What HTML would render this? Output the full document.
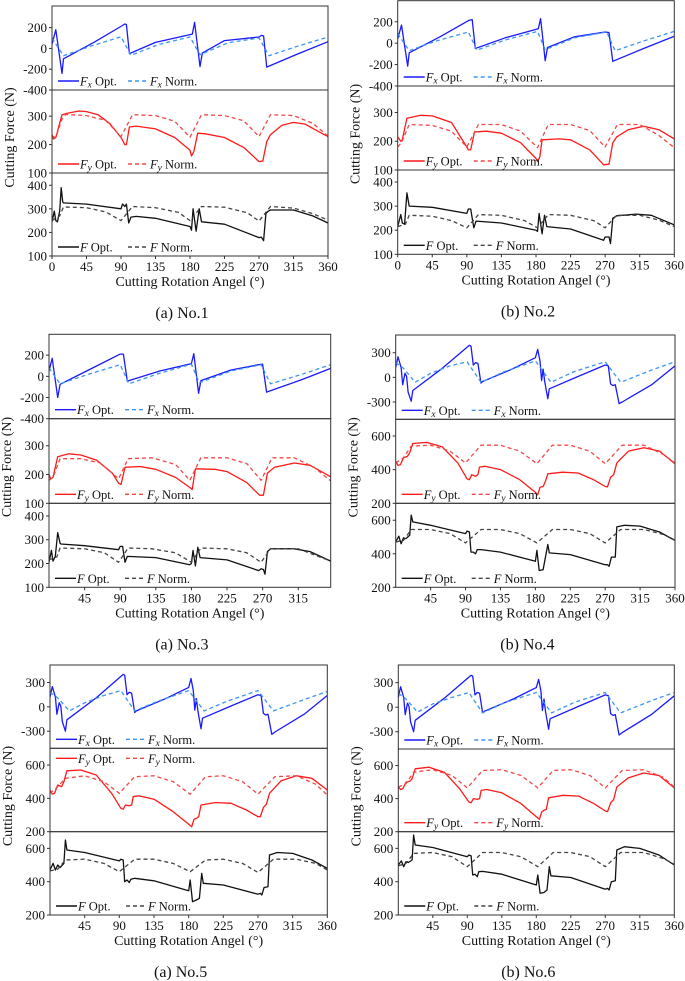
<!DOCTYPE html>
<html><head><meta charset="utf-8">
<style>
html,body{margin:0;padding:0;background:#fff;}
svg{display:block;font-family:"Liberation Serif",serif;}
</style></head>
<body>
<svg id="fig" width="685" height="981" viewBox="0 0 685 981" xmlns="http://www.w3.org/2000/svg"></svg>
<script>
// ---------------- DATA (angle, force) ----------------
const p1FxOpt=[[0,40],[5,180],[13,-240],[15,-100],[55,60],[92,220],[95,235],[97,230],[101,-50],[135,58],[183,138],[186,250],[193,-175],[196,-45],[225,75],[270,110],[273,125],[276,120],[280,-180],[283,-170],[320,-55],[360,65]];
const p1FxNorm=[[0,100],[15,-70],[50,20],[90,112],[103,-65],[140,40],[180,110],[193,-60],[230,55],[270,100],[283,-70],[320,20],[360,110]];
const p1FyOpt=[[0,235],[2,220],[5,225],[13,305],[20,310],[35,318],[45,316],[60,305],[75,275],[90,225],[95,200],[97,200],[101,262],[110,265],[135,255],[160,225],[180,180],[182,160],[185,175],[190,240],[200,238],[225,225],[250,190],[270,140],[275,142],[280,210],[285,235],[300,268],[315,278],[330,272],[345,250],[360,228]];
const p1FyNorm=[[0,230],[5,225],[13,290],[18,306],[45,302],[70,285],[90,228],[105,305],[135,302],[160,282],[180,226],[195,305],[225,302],[250,284],[270,228],[285,305],[315,302],[340,275],[360,230]];
const p1FOpt=[[0,245],[3,290],[5,250],[7,245],[10,290],[12,390],[14,330],[15,325],[45,320],[90,300],[92,320],[95,310],[97,320],[100,240],[103,265],[110,268],[135,260],[180,225],[182,210],[184,300],[188,205],[192,300],[195,245],[225,235],[270,178],[273,180],[276,165],[279,280],[282,290],[285,295],[315,295],[340,270],[360,240]];
const p1FNorm=[[0,250],[10,270],[15,308],[45,305],[70,287],[90,250],[105,310],[135,305],[165,285],[180,250],[195,310],[225,307],[255,283],[270,248],[285,310],[315,303],[340,280],[360,252]];

const p2FxOpt=[[0,40],[5,170],[13,-215],[15,-90],[55,60],[93,215],[97,220],[101,-50],[140,50],[183,135],[186,230],[192,-165],[195,-40],[230,60],[270,105],[275,100],[280,-170],[283,-160],[320,-50],[360,65]];
const p2FxNorm=[[0,90],[15,-70],[50,20],[92,105],[103,-65],[140,30],[182,110],[192,-60],[230,50],[272,105],[283,-70],[320,20],[360,110]];
const p2FyOpt=[[0,215],[4,200],[6,205],[12,280],[30,290],[45,288],[70,265],[90,180],[92,170],[95,170],[100,232],[115,235],[135,228],[160,195],[180,140],[182,130],[185,145],[188,205],[210,208],[225,205],[250,170],[268,118],[275,120],[280,195],[285,215],[300,240],[320,252],[340,240],[360,208]];
const p2FyNorm=[[0,180],[5,195],[15,258],[45,255],[70,235],[90,180],[105,258],[135,258],[160,235],[182,178],[196,258],[225,258],[250,237],[270,180],[286,258],[315,258],[340,220],[360,178]];
const p2FOpt=[[0,215],[4,265],[6,230],[9,225],[12,355],[15,300],[45,295],[90,270],[92,288],[95,288],[99,210],[102,238],[135,230],[180,200],[182,195],[184,270],[188,185],[191,262],[194,215],[225,205],[268,158],[270,172],[275,172],[277,145],[280,250],[285,260],[310,267],[330,262],[360,222]];
const p2FNorm=[[0,215],[10,225],[15,262],[45,258],[70,240],[90,210],[105,265],[135,262],[165,240],[182,210],[196,265],[225,262],[255,240],[270,210],[285,262],[315,262],[340,242],[360,215]];

const p3FxOpt=[[0,50],[4,170],[11,-200],[14,-75],[50,60],[90,210],[94,210],[99,-45],[140,50],[180,120],[183,215],[189,-160],[192,-40],[230,60],[265,110],[270,115],[275,-150],[278,-140],[320,-30],[356,75]];
const p3FxNorm=[[0,80],[14,-70],[50,20],[90,110],[101,-70],[140,30],[180,115],[190,-60],[230,50],[268,110],[280,-70],[320,20],[356,110]];
const p3FyOpt=[[0,200],[2,185],[5,190],[11,262],[25,272],[40,268],[60,250],[80,205],[88,170],[91,165],[96,225],[115,228],[135,218],[160,190],[178,155],[181,148],[185,220],[210,218],[225,210],[250,172],[266,128],[271,128],[276,205],[285,225],[310,240],[330,232],[356,192]];
const p3FyNorm=[[0,180],[5,190],[14,255],[40,255],[65,240],[88,185],[100,255],[130,258],[160,235],[178,180],[192,258],[225,258],[250,238],[268,180],[282,258],[310,258],[335,225],[356,178]];
const p3FOpt=[[0,205],[3,255],[5,210],[8,230],[11,330],[14,285],[15,282],[45,275],[88,258],[90,272],[93,272],[96,205],[99,230],[135,225],[178,195],[180,200],[182,255],[185,190],[188,268],[191,225],[225,215],[265,170],[268,178],[271,175],[273,155],[276,250],[280,262],[310,262],[330,250],[356,210]];
const p3FNorm=[[0,215],[10,228],[14,265],[45,262],[70,245],[88,205],[100,265],[130,262],[160,245],[180,205],[192,265],[225,262],[250,245],[268,205],[280,262],[315,262],[356,210]];

const p4FxOpt=[[0,120],[3,250],[7,120],[9,-90],[12,50],[14,10],[16,-180],[20,-290],[22,-160],[60,110],[95,390],[97,380],[100,150],[103,180],[106,170],[110,-70],[112,-50],[150,100],[180,240],[183,340],[186,200],[188,-40],[190,100],[192,-50],[196,-260],[198,-140],[235,10],[270,150],[274,140],[277,-80],[280,-100],[283,-90],[288,-320],[292,-300],[330,-90],[360,140]];
const p4FxNorm=[[0,180],[10,110],[25,-60],[45,50],[70,140],[92,190],[110,-60],[140,70],[180,200],[200,-60],[230,70],[270,190],[290,-60],[330,90],[360,190]];
const p4FyOpt=[[0,450],[3,425],[6,430],[10,470],[15,478],[18,500],[22,555],[40,562],[60,535],[80,440],[92,345],[95,340],[98,370],[103,360],[106,370],[108,415],[115,420],[135,400],[160,340],[180,265],[183,250],[186,295],[190,300],[193,330],[196,375],[215,385],[235,380],[255,340],[270,300],[273,298],[277,355],[281,370],[285,440],[300,510],[320,530],[340,510],[360,435]];
const p4FyNorm=[[0,440],[10,470],[20,540],[45,545],[70,510],[90,440],[110,545],[135,545],[160,510],[182,435],[202,545],[225,545],[250,510],[270,435],[292,545],[320,545],[345,490],[360,440]];
const p4FOpt=[[0,470],[4,505],[7,460],[10,495],[13,490],[18,510],[20,630],[22,590],[45,570],[90,520],[92,535],[95,530],[97,410],[100,410],[103,400],[105,425],[110,425],[135,410],[180,355],[182,420],[185,300],[190,305],[196,455],[198,405],[225,395],[270,335],[273,335],[275,325],[278,380],[283,380],[285,560],[295,570],[315,565],[340,530],[360,480]];
const p4FNorm=[[0,470],[10,480],[20,545],[45,545],[70,520],[90,465],[110,545],[135,545],[160,520],[182,465],[202,545],[225,545],[250,520],[270,465],[290,545],[320,545],[345,515],[360,480]];

const p5FxOpt=[[0,120],[3,250],[7,120],[9,-90],[12,50],[14,10],[16,-180],[20,-300],[22,-160],[60,110],[95,400],[97,390],[100,150],[103,180],[106,170],[110,-70],[112,-50],[150,100],[180,240],[183,350],[186,200],[188,-40],[190,100],[192,-50],[196,-270],[198,-140],[235,10],[270,150],[274,140],[277,-80],[280,-100],[283,-90],[288,-340],[292,-310],[330,-90],[360,140]];
const p5FxNorm=[[0,180],[10,110],[25,-50],[45,50],[70,140],[92,200],[110,-50],[140,70],[180,200],[200,-50],[230,70],[270,200],[290,-50],[330,90],[360,190]];
const p5FyOpt=[[0,450],[3,425],[6,430],[10,480],[15,470],[18,500],[22,565],[40,570],[60,540],[80,430],[92,340],[95,335],[98,360],[103,355],[106,360],[108,410],[115,415],[135,395],[160,320],[180,245],[184,230],[187,275],[190,280],[193,290],[196,360],[215,375],[235,370],[255,330],[270,290],[273,290],[277,345],[281,365],[285,430],[300,505],[320,535],[340,520],[360,450]];
const p5FyNorm=[[0,430],[10,470],[20,520],[45,535],[70,500],[90,430],[110,530],[135,535],[160,500],[182,425],[202,530],[225,535],[250,500],[270,425],[292,530],[320,535],[345,485],[360,420]];
const p5FOpt=[[0,470],[4,510],[7,470],[10,500],[13,485],[18,510],[20,650],[22,590],[45,575],[90,525],[92,535],[95,530],[97,400],[100,410],[103,395],[105,415],[110,420],[135,405],[180,345],[182,410],[185,280],[190,290],[194,300],[197,450],[199,390],[225,380],[270,325],[273,330],[275,320],[278,365],[283,370],[285,560],[295,575],[315,570],[340,530],[360,480]];
const p5FNorm=[[0,465],[10,475],[20,530],[45,535],[70,510],[90,460],[110,535],[135,535],[160,510],[182,460],[202,530],[225,535],[250,510],[270,455],[290,535],[320,535],[345,510],[360,470]];

const p6FxOpt=[[0,120],[3,250],[7,120],[9,-90],[12,50],[14,10],[16,-180],[20,-300],[22,-160],[60,110],[95,390],[97,380],[100,150],[103,180],[106,170],[110,-70],[112,-50],[150,100],[180,240],[183,340],[186,200],[188,-40],[190,100],[192,-50],[196,-270],[198,-140],[235,10],[270,150],[274,140],[277,-80],[280,-100],[283,-90],[288,-340],[292,-310],[330,-90],[360,140]];
const p6FxNorm=[[0,170],[10,100],[25,-60],[45,40],[70,120],[92,180],[110,-70],[140,60],[180,180],[200,-70],[230,60],[270,180],[290,-70],[330,80],[360,180]];
const p6FyOpt=[[0,470],[3,455],[6,460],[10,500],[15,505],[18,520],[22,580],[40,590],[60,560],[80,460],[92,380],[95,375],[98,400],[103,395],[106,400],[108,450],[115,455],[135,435],[160,370],[180,290],[184,275],[187,320],[190,330],[193,335],[196,405],[215,420],[235,415],[255,370],[270,325],[273,322],[277,375],[281,395],[285,470],[300,525],[320,555],[340,540],[360,465]];
const p6FyNorm=[[0,470],[10,490],[20,560],[45,575],[70,540],[90,465],[110,570],[135,575],[160,540],[182,465],[202,570],[225,575],[250,540],[270,465],[292,570],[320,575],[345,530],[360,470]];
const p6FOpt=[[0,500],[4,525],[7,490],[10,520],[13,515],[18,530],[20,680],[22,620],[45,605],[90,550],[92,560],[95,555],[97,440],[100,445],[103,430],[105,460],[110,462],[135,445],[180,380],[182,440],[185,330],[190,335],[194,350],[197,490],[199,435],[225,425],[270,355],[273,360],[275,350],[278,400],[283,405],[285,590],[295,610],[315,600],[340,560],[360,500]];
const p6FNorm=[[0,495],[10,510],[20,570],[45,575],[70,550],[90,490],[110,575],[135,575],[160,550],[182,490],[202,575],[225,575],[250,550],[270,490],[290,575],[320,575],[345,540],[360,505]];

const tickXFull=[0,45,90,135,180,225,270,315,360];
const tickXNo0=[45,90,135,180,225,270,315,360];
const tickXNo3=[45,90,135,180,225,270,315];
const tickFxA=[-400,-200,0,200], tickFyA=[100,200,300], tickFA=[100,200,300,400];
const tickFxB=[-300,0,300], tickFyB=[200,400,600], tickFB=[200,400,600];
const captions=["(a) No.1","(b) No.2","(a) No.3","(b) No.4","(a) No.5","(b) No.6"];

// ---------------- LAYOUT ----------------
const panels=[
 {L:52,R:328,B:[6,90,173,256],xmax:360,xt:tickXFull,dom:[[-400,408],[100,392],[100,452]],ticks:[tickFxA,tickFyA,tickFA],data:[[p1FxOpt,p1FxNorm],[p1FyOpt,p1FyNorm],[p1FOpt,p1FNorm]],legTop:[false,false,false]},
 {L:397.7,R:674.3,B:[0.7,86,170,254.3],xmax:360,xt:tickXFull,dom:[[-400,397],[100,392],[100,450]],ticks:[tickFxA,tickFyA,tickFA],data:[[p2FxOpt,p2FxNorm],[p2FyOpt,p2FyNorm],[p2FOpt,p2FNorm]],legTop:[false,false,false]},
 {L:49,R:330.7,B:[334.3,418.7,503.3,587.3],xmax:356,xt:tickXNo3,dom:[[-400,397],[100,394],[100,453]],ticks:[tickFxA,tickFyA,tickFA],data:[[p3FxOpt,p3FxNorm],[p3FyOpt,p3FyNorm],[p3FOpt,p3FNorm]],legTop:[false,false,false]},
 {L:395.7,R:675,B:[335,419.3,503.3,587.3],xmax:360,xt:tickXNo0,dom:[[-511,516],[200,699],[200,701]],ticks:[tickFxB,tickFyB,tickFB],data:[[p4FxOpt,p4FxNorm],[p4FyOpt,p4FyNorm],[p4FOpt,p4FNorm]],legTop:[false,false,false]},
 {L:50,R:327.3,B:[665,748.3,831.7,915],xmax:360,xt:tickXNo0,dom:[[-511,516],[200,700],[200,700]],ticks:[tickFxB,tickFyB,tickFB],data:[[p5FxOpt,p5FxNorm],[p5FyOpt,p5FyNorm],[p5FOpt,p5FNorm]],legTop:[false,true,false]},
 {L:398.3,R:674.3,B:[665,749,831.7,915],xmax:360,xt:tickXNo0,dom:[[-511,516],[200,700],[200,700]],ticks:[tickFxB,tickFyB,tickFB],data:[[p6FxOpt,p6FxNorm],[p6FyOpt,p6FyNorm],[p6FOpt,p6FNorm]],legTop:[false,false,false]}
];
const colors=[["#1a1aff","#3c96f0"],["#ff1a1a","#f04848"],["#111111","#444444"]];
const subs=["x","y",""];
const subNames=["fx","fy","f"];

const NS="http://www.w3.org/2000/svg";
const svg=document.getElementById('fig');
function mk(tag,attrs,parent){const e=document.createElementNS(NS,tag);for(const k in attrs)e.setAttribute(k,attrs[k]);(parent||svg).appendChild(e);return e;}

panels.forEach((p,pi)=>{
  const g=mk('g',{});
  
  
  const xs=v=>p.L+(v/p.xmax)*(p.R-p.L);
  for(let s=0;s<3;s++){
    const top=p.B[s],bot=p.B[s+1],d=p.dom[s];
    const ys=v=>bot-(v-d[0])/(d[1]-d[0])*(bot-top);
    const sg=mk('g',{},g);
    
    
    const cid='clip'+pi+'_'+s;
    const cp=mk('clipPath',{id:cid},sg);mk('rect',{x:p.L,y:top,width:p.R-p.L,height:bot-top},cp);
    p.data[s].forEach((ser,k)=>{
      const pts=ser.map(q=>xs(q[0]).toFixed(1)+','+ys(q[1]).toFixed(1)).join(' ');
      const pl=mk('polyline',{points:pts,fill:'none',stroke:colors[s][k],'stroke-width':1.3,'clip-path':'url(#'+cid+')','stroke-linejoin':'round'},sg);
      if(k===1)pl.setAttribute('stroke-dasharray','4,3');
      
      
    });
    const fr=mk('rect',{x:p.L,y:top,width:p.R-p.L,height:bot-top,fill:'none',stroke:'#333','stroke-width':1},sg);
    
    
    p.ticks[s].forEach(v=>{
      const y=ys(v);
      mk('line',{x1:p.L-3,x2:p.L,y1:y,y2:y,stroke:'#333','stroke-width':1},sg);
      const t=mk('text',{x:p.L-5,y:y+4.5,'text-anchor':'end','font-size':13,fill:'#111'},sg);
      t.textContent=v;
      
      
    });
    const ly=p.legTop[s]?top+10:bot-9;
    const lg=mk('g',{},sg);
    
    
    const x0=p.L+6;
    [0,1].forEach(k=>{
      const lx=x0+k*70;
      const ln=mk('line',{x1:lx,x2:lx+21,y1:ly,y2:ly,stroke:colors[s][k],'stroke-width':1.4},lg);
      if(k===1)ln.setAttribute('stroke-dasharray','4,3');
      const t=mk('text',{x:lx+22,y:ly+4.5,'font-size':12.5,fill:'#111'},lg);
      const f=mk('tspan',{'font-style':'italic'},t);f.textContent='F';
      if(subs[s]){const sb=mk('tspan',{'font-style':'italic','font-size':9.5,dy:2},t);sb.textContent=subs[s];
        const r=mk('tspan',{dy:-2},t);r.textContent=k?' Norm.':' Opt.';}
      else{const r=mk('tspan',{},t);r.textContent=k?' Norm.':' Opt.';}
      
      
    });
  }
  const bot=p.B[3];
  p.xt.forEach(v=>{
    const x=xs(v);
    mk('line',{x1:x,x2:x,y1:bot,y2:bot+3,stroke:'#333','stroke-width':1},g);
    const t=mk('text',{x:x,y:bot+15,'text-anchor':'middle','font-size':13,fill:'#111'},g);
    t.textContent=v;
    
    
  });
  const cx=(p.L+p.R)/2;
  const xt=mk('text',{x:cx,y:bot+30,'text-anchor':'middle','font-size':14,fill:'#111'},g);
  xt.textContent='Cutting Rotation Angel (°)';
  
  
  const ym=(p.B[1]+p.B[2])/2+6, yx=p.L-38;
  const yt=mk('text',{x:yx,y:ym,'text-anchor':'middle','font-size':14,fill:'#111',transform:'rotate(-90 '+yx+' '+ym+')'},g);
  yt.textContent='Cutting Force (N)';
  
  
  const cap=mk('text',{x:cx-8,y:bot+62,'text-anchor':'middle','font-size':16,fill:'#111'},g);
  cap.textContent=captions[pi];
  
  
});
</script>
</body></html>
